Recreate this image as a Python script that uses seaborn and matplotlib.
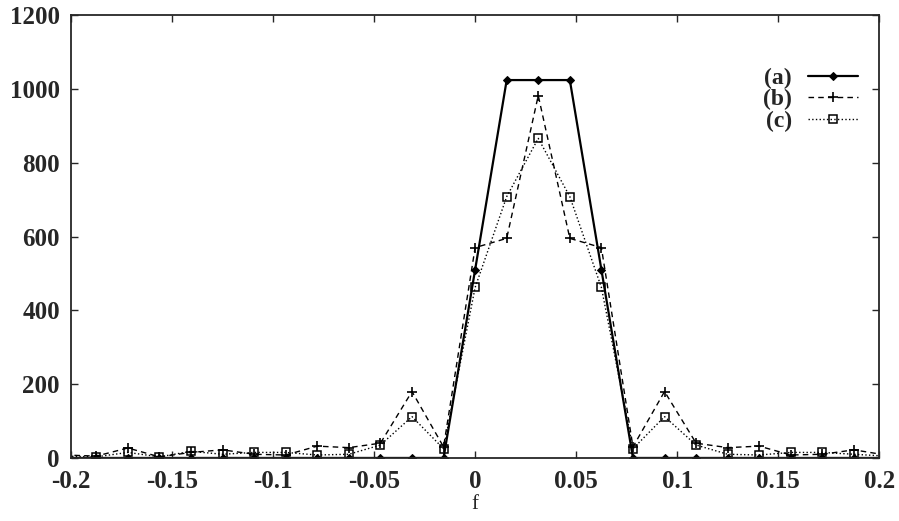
#!/usr/bin/env python3
"""
Spectrum comparison (a), (b), (c) vs f.
"""
import pandas as pd
import seaborn as sns
import matplotlib.pyplot as plt

# frequency grid (step 1/64), one point beyond each edge is clipped
f_vals = [k / 64 for k in range(-13, 14)]

# values
a_vals = [0, 0, 0, 0, 0, 0, 0, 0, 0, 0, 0, 0, 0, 510, 1024, 1024, 1024,
          510, 0, 0, 0, 0, 0, 0, 0, 0, 0]
b_vals = [8, 5, 27, 3, 15, 22, 10, 8, 32, 28, 40, 180, 30, 570, 595, 982, 595,
          570, 30, 180, 40, 28, 32, 8, 10, 22, 8]
c_vals = [5, 3, 15, 3, 18, 10, 15, 15, 8, 10, 35, 112, 25, 462, 708, 866, 708,
          462, 25, 112, 35, 10, 8, 15, 15, 10, 5]

x_ticks = [-0.2, -0.15, -0.1, -0.05, 0, 0.05, 0.1, 0.15, 0.2]
x_labels = ["-0.2", "-0.15", "-0.1", "-0.05", "0", "0.05", "0.1", "0.15", "0.2"]
y_ticks = [0, 200, 400, 600, 800, 1000, 1200]

df = pd.DataFrame({"f": f_vals, "(a)": a_vals, "(b)": b_vals, "(c)": c_vals})

sns.set_style("ticks")
plt.rcParams["font.family"] = ["Liberation Serif", "DejaVu Serif"]
plt.rcParams["font.weight"] = "bold"

fig = plt.figure(figsize=(8.99, 5.21), dpi=100)
ax = fig.add_axes([0.079, 0.121, 0.899, 0.850])

sns.lineplot(data=df, x="f", y="(a)", ax=ax, color="black", lw=1.6,
             marker="D", markersize=4, markeredgecolor="black", label="(a)")
sns.lineplot(data=df, x="f", y="(b)", ax=ax, color="black", lw=1.0,
             marker="+", markersize=7, markeredgewidth=1.2,
             markeredgecolor="black", dashes=(4, 3), label="(b)")
sns.lineplot(data=df, x="f", y="(c)", ax=ax, color="black", lw=1.0,
             marker="s", markersize=6, markerfacecolor="none",
             markeredgecolor="black", markeredgewidth=1.1,
             linestyle=":", label="(c)")

ax.set_xlim(-0.2, 0.2)
ax.set_ylim(0, 1200)
ax.set_xticks(x_ticks)
ax.set_xticklabels(x_labels)
ax.set_yticks(y_ticks)
ax.tick_params(direction="in", top=True, right=True, length=5, width=1,
               labelsize=18)
ax.tick_params(axis="x", pad=9)
ax.tick_params(axis="y", pad=8)
for s in ax.spines.values():
    s.set_linewidth(1.3)
ax.set_xlabel("f", fontsize=15, labelpad=1)
ax.set_ylabel("")

leg = ax.legend(loc="upper right", bbox_to_anchor=(1.0, 0.93), frameon=False,
                markerfirst=False, fontsize=17, handlelength=2.1,
                labelspacing=0.0, handletextpad=0.7)

fig.savefig("out.png", dpi=100)
